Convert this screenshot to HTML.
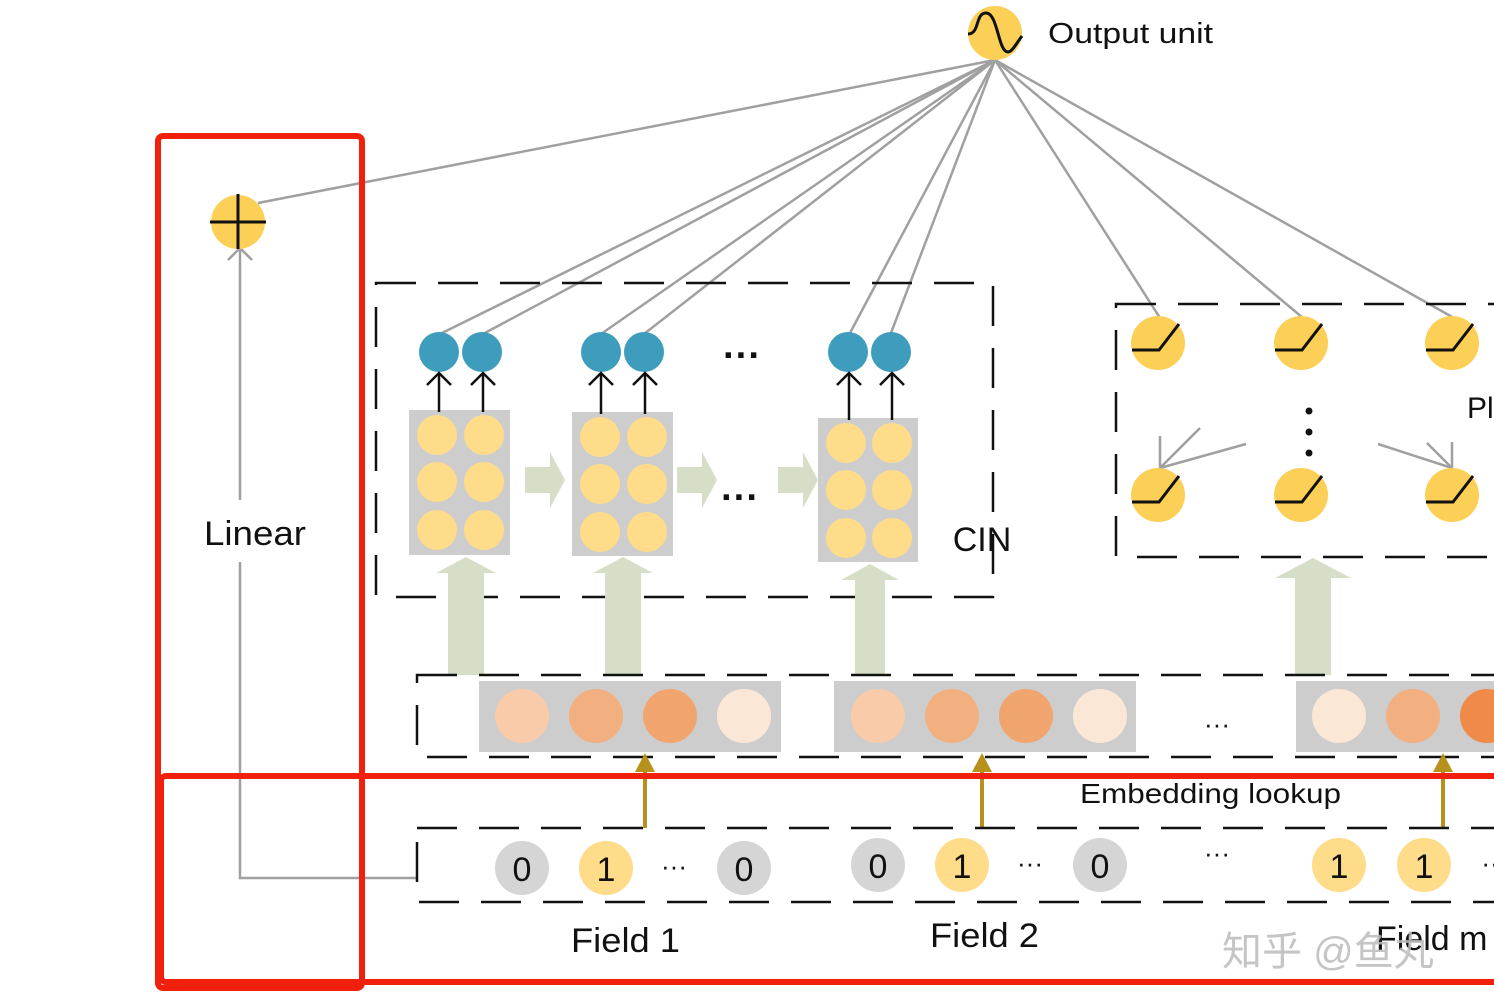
<!DOCTYPE html>
<html><head><meta charset="utf-8"><style>html,body{margin:0;padding:0;background:#fff;overflow:hidden}svg{display:block}</style></head>
<body>
<svg width="1494" height="1008" viewBox="0 0 1494 1008" xmlns="http://www.w3.org/2000/svg" font-family="Liberation Sans, sans-serif">
<g stroke="#a0a0a0" stroke-width="2.5" fill="none">
<line x1="995" y1="60" x2="258" y2="203"/>
<line x1="995" y1="60" x2="440" y2="334"/>
<line x1="995" y1="60" x2="483" y2="334"/>
<line x1="995" y1="60" x2="601" y2="334"/>
<line x1="995" y1="60" x2="644" y2="334"/>
<line x1="995" y1="60" x2="850" y2="333"/>
<line x1="995" y1="60" x2="891" y2="333"/>
<line x1="995" y1="60" x2="1160" y2="318"/>
<line x1="995" y1="60" x2="1303" y2="318"/>
<line x1="995" y1="60" x2="1454" y2="318"/>
<polyline points="240,250 240,878 417,878"/>
<polyline points="228,260 240,248 252,260"/>
<line x1="1246" y1="444" x2="1160" y2="468"/>
<polyline points="1200,428 1160,468 1160,436"/>
<line x1="1378" y1="444" x2="1452" y2="468"/>
<polyline points="1427,443 1452,468 1452,442"/>
</g>
<circle cx="995" cy="33" r="27" fill="#fcd057"/>
<path d="M968,34 C980,34 975,13 986,13 C998,13 998,52 1008,52 C1012,52 1016,44 1022,36" stroke="#111" stroke-width="3" fill="none"/>
<text x="1048" y="43" font-size="29" fill="#111" textLength="165" lengthAdjust="spacingAndGlyphs">Output unit</text>
<circle cx="238" cy="222" r="27" fill="#fcd057"/>
<line x1="238" y1="194" x2="238" y2="249" stroke="#111" stroke-width="3"/>
<line x1="210" y1="222" x2="266" y2="222" stroke="#111" stroke-width="3"/>
<rect x="200" y="500" width="110" height="62" fill="#fff"/>
<text x="204" y="545" font-size="34" fill="#111" textLength="102" lengthAdjust="spacingAndGlyphs">Linear</text>
<rect x="376" y="283" width="617" height="314" fill="none" stroke="#111" stroke-width="2.5" stroke-dasharray="40,22"/>
<g fill="#d6dec8">
<polygon points="448,675 448,573 436,573 466,557 496,573 484,573 484,675"/>
<polygon points="605,675 605,573 593,573 623,557 653,573 641,573 641,675"/>
<polygon points="855,675 855,580 841,580 870,564 899,580 885,580 885,675"/>
<polygon points="1295,675 1295,578 1275,578 1313,558 1351,578 1331,578 1331,675"/>
<polygon points="525,467 550,467 550,452 565,480 550,508 550,493 525,493"/>
<polygon points="677,467 702,467 702,452 717,480 702,508 702,493 677,493"/>
<polygon points="778,467 803,467 803,452 818,480 803,508 803,493 778,493"/>
</g>
<g fill="#cdcdcd">
<rect x="409" y="410" width="101" height="145"/>
<rect x="572" y="412" width="101" height="144"/>
<rect x="818" y="418" width="100" height="144"/>
</g>
<g fill="#fedc8a">
<circle cx="437" cy="435" r="20"/><circle cx="484" cy="435" r="20"/>
<circle cx="437" cy="482" r="20"/><circle cx="484" cy="482" r="20"/>
<circle cx="437" cy="530" r="20"/><circle cx="484" cy="530" r="20"/>
<circle cx="600" cy="437" r="20"/><circle cx="647" cy="437" r="20"/>
<circle cx="600" cy="484" r="20"/><circle cx="647" cy="484" r="20"/>
<circle cx="600" cy="532" r="20"/><circle cx="647" cy="532" r="20"/>
<circle cx="846" cy="443" r="20"/><circle cx="892" cy="443" r="20"/>
<circle cx="846" cy="490" r="20"/><circle cx="892" cy="490" r="20"/>
<circle cx="846" cy="538" r="20"/><circle cx="892" cy="538" r="20"/>
</g>
<g fill="#3e9cbd">
<circle cx="439" cy="352" r="20"/><circle cx="482" cy="352" r="20"/>
<circle cx="601" cy="352" r="20"/><circle cx="644" cy="352" r="20"/>
<circle cx="848" cy="352" r="20"/><circle cx="891" cy="352" r="20"/>
</g>
<g stroke="#111" stroke-width="2.5" fill="none">
<line x1="439" y1="412" x2="439" y2="373"/><polyline points="427,385 439,373 451,385"/>
<line x1="483" y1="412" x2="483" y2="373"/><polyline points="471,385 483,373 495,385"/>
<line x1="601" y1="414" x2="601" y2="373"/><polyline points="589,385 601,373 613,385"/>
<line x1="645" y1="414" x2="645" y2="373"/><polyline points="633,385 645,373 657,385"/>
<line x1="849" y1="420" x2="849" y2="373"/><polyline points="837,385 849,373 861,385"/>
<line x1="892" y1="420" x2="892" y2="373"/><polyline points="880,385 892,373 904,385"/>
</g>
<text x="742" y="368" font-size="38" font-weight="bold" text-anchor="middle" fill="#111">···</text>
<text x="740" y="510" font-size="38" font-weight="bold" text-anchor="middle" fill="#111">···</text>
<text x="982" y="551" font-size="34" text-anchor="middle" fill="#111">CIN</text>
<rect x="1116" y="304" width="400" height="253" fill="none" stroke="#111" stroke-width="2.5" stroke-dasharray="40,22"/>
<g fill="#fcd057">
<circle cx="1158" cy="343" r="27"/><circle cx="1301" cy="343" r="27"/><circle cx="1452" cy="343" r="27"/>
<circle cx="1158" cy="495" r="27"/><circle cx="1301" cy="495" r="27"/><circle cx="1452" cy="495" r="27"/>
</g>
<g stroke="#111" stroke-width="3" fill="none">
<polyline points="1132,350 1159,350 1179,324"/><polyline points="1275,350 1302,350 1322,324"/><polyline points="1426,350 1453,350 1473,324"/>
<polyline points="1132,502 1159,502 1179,476"/><polyline points="1275,502 1302,502 1322,476"/><polyline points="1426,502 1453,502 1473,476"/>
</g>
<g fill="#111"><circle cx="1309" cy="411" r="3.5"/><circle cx="1309" cy="432" r="3.5"/><circle cx="1309" cy="453" r="3.5"/></g>
<text x="1467" y="418" font-size="30" fill="#111">Pl</text>
<rect x="417" y="675" width="1100" height="82" fill="none" stroke="#111" stroke-width="2.5" stroke-dasharray="40,22"/>
<g fill="#cdcdcd">
<rect x="479" y="681" width="302" height="71"/>
<rect x="834" y="681" width="302" height="71"/>
<rect x="1296" y="681" width="220" height="71"/>
</g>
<circle cx="522" cy="716" r="27" fill="#f9cba8"/>
<circle cx="596" cy="716" r="27" fill="#f2b080"/>
<circle cx="670" cy="716" r="27" fill="#f0a56f"/>
<circle cx="744" cy="716" r="27" fill="#fbe7d6"/>
<circle cx="878" cy="716" r="27" fill="#f9cba8"/>
<circle cx="952" cy="716" r="27" fill="#f2b080"/>
<circle cx="1026" cy="716" r="27" fill="#f0a56f"/>
<circle cx="1100" cy="716" r="27" fill="#fbe7d6"/>
<circle cx="1339" cy="716" r="27" fill="#fbe7d6"/>
<circle cx="1413" cy="716" r="27" fill="#f2b080"/>
<circle cx="1487" cy="716" r="27" fill="#ef8a48"/>
<text x="1217" y="733" font-size="26" text-anchor="middle" fill="#111">···</text>
<g stroke="#b8901c" stroke-width="4" fill="#b8901c">
<line x1="645" y1="828" x2="645" y2="768"/><polygon points="635,772 645,753 655,772" stroke="none"/>
<line x1="982" y1="828" x2="982" y2="768"/><polygon points="972,772 982,753 992,772" stroke="none"/>
<line x1="1443" y1="828" x2="1443" y2="768"/><polygon points="1433,772 1443,753 1453,772" stroke="none"/>
</g>
<text x="1080" y="803" font-size="28" fill="#111" textLength="261" lengthAdjust="spacingAndGlyphs">Embedding lookup</text>
<rect x="417" y="828" width="1100" height="74" fill="none" stroke="#111" stroke-width="2.5" stroke-dasharray="40,22"/>
<g font-size="34" text-anchor="middle" fill="#111">
<circle cx="522" cy="868" r="27" fill="#d5d5d5"/><text x="522" y="881">0</text>
<circle cx="606" cy="868" r="27" fill="#fedc8a"/><text x="606" y="881">1</text>
<circle cx="744" cy="868" r="27" fill="#d5d5d5"/><text x="744" y="881">0</text>
<circle cx="878" cy="865" r="27" fill="#d5d5d5"/><text x="878" y="878">0</text>
<circle cx="962" cy="865" r="27" fill="#fedc8a"/><text x="962" y="878">1</text>
<circle cx="1100" cy="865" r="27" fill="#d5d5d5"/><text x="1100" y="878">0</text>
<circle cx="1339" cy="865" r="27" fill="#fedc8a"/><text x="1339" y="878">1</text>
<circle cx="1424" cy="865" r="27" fill="#fedc8a"/><text x="1424" y="878">1</text>
</g>
<g font-size="26" text-anchor="middle" fill="#111">
<text x="674" y="875">···</text><text x="1030" y="872">···</text><text x="1217" y="862">···</text><text x="1490" y="872">··</text>
</g>
<g font-size="34" fill="#111">
<text x="571" y="952" textLength="109" lengthAdjust="spacingAndGlyphs">Field 1</text>
<text x="930" y="947" textLength="109" lengthAdjust="spacingAndGlyphs">Field 2</text>
<text x="1376" y="950">Field m</text>
</g>
<text x="1222" y="965" font-size="40" fill="#bbb" fill-opacity="0.85" font-family="Liberation Sans, Noto Sans CJK SC, sans-serif">知乎 @鱼丸</text>
<rect x="158" y="136" width="204" height="852" rx="5" fill="none" stroke="#f0200c" stroke-width="6"/>
<rect x="161" y="776" width="1345" height="206" rx="5" fill="none" stroke="#f0200c" stroke-width="6"/>
</svg>
</body></html>
